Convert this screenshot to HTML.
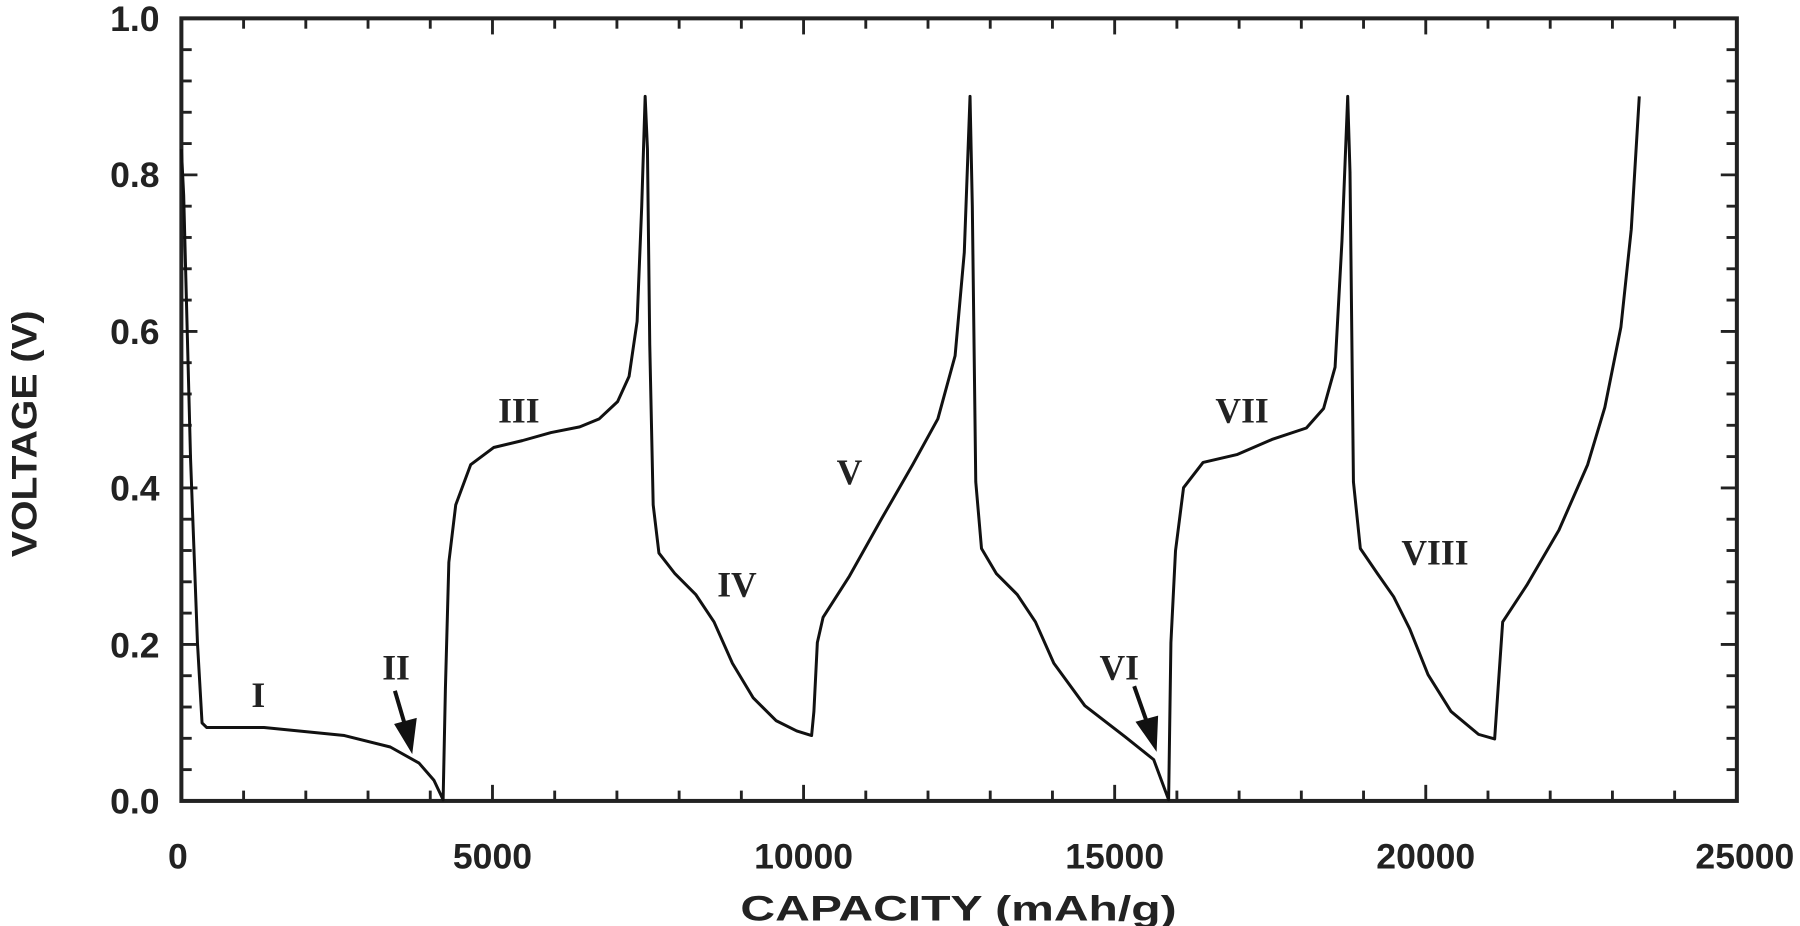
<!DOCTYPE html>
<html><head><meta charset="utf-8"><style>
html,body{margin:0;padding:0;background:#fff;}
svg{display:block;}
.t{font-family:"Liberation Sans",sans-serif;font-weight:bold;font-size:31px;fill:#222;}
.r{font-family:"Liberation Serif",serif;font-weight:bold;font-size:31px;fill:#222;}
</style></head><body>
<svg width="1800" height="926" viewBox="0 0 1568 807" preserveAspectRatio="none" xmlns="http://www.w3.org/2000/svg">
<g id="ticks" stroke="#222" stroke-width="2.5" fill="none"></g>
<rect x="158" y="16" width="1355" height="682" fill="none" stroke="#222" stroke-width="3.5"/>
<path fill="none" stroke="#111" stroke-width="2.6" stroke-linejoin="round" d="
M158,130 L160,170 L166,400 L172,560 L176,630 L180,634 L230,634 L300,641 L340,651 L365,665 L378,680 L386,697
L388,600 L391,490 L397,440 L410,405 L430,390 L455,384 L480,377 L505,372 L522,365 L538,350 L548,328 L555,280 L559,180 L562,84
L564,130 L566,300 L569,440 L574,482 L588,500 L606,518 L622,542 L638,578 L656,608 L676,628 L694,637 L707,641
L709,620 L712,560 L717,538 L740,502 L768,452 L795,405 L817,365 L832,310 L840,220 L845,84
L847,180 L850,420 L855,478 L868,500 L886,518 L902,542 L918,578 L945,615 L980,642 L1005,662 L1018,697
L1020,560 L1024,480 L1031,425 L1048,403 L1078,396 L1108,383 L1138,373 L1153,356 L1163,320 L1169,210 L1174,84
L1176,150 L1179,420 L1185,478 L1200,500 L1214,520 L1228,548 L1244,588 L1264,620 L1288,640 L1302,644
L1305,600 L1309,542 L1330,510 L1358,462 L1383,405 L1398,355 L1412,285 L1421,200 L1428,84"/>
<g class="r">
<text x="225" y="616" text-anchor="middle">I</text>
<text x="345" y="592" text-anchor="middle">II</text>
<text x="452" y="368" text-anchor="middle">III</text>
<text x="642" y="520" text-anchor="middle">IV</text>
<text x="740" y="422" text-anchor="middle">V</text>
<text x="975" y="592" text-anchor="middle">VI</text>
<text x="1082" y="368" text-anchor="middle">VII</text>
<text x="1250" y="492" text-anchor="middle">VIII</text>
</g>
<g stroke="#111" stroke-width="3.5" fill="#111">
<line x1="344" y1="602" x2="354" y2="636"/><polygon points="346,632 361,628 358,652"/>
<line x1="988" y1="598" x2="1000" y2="632"/><polygon points="992,630 1007,626 1006,650"/>
</g>
<g class="t" text-anchor="end">
<text x="139" y="709">0.0</text><text x="139" y="573">0.2</text><text x="139" y="436">0.4</text>
<text x="139" y="300">0.6</text><text x="139" y="163">0.8</text><text x="139" y="27">1.0</text>
</g>
<g class="t" text-anchor="middle">
<text x="155" y="757">0</text><text x="429" y="757">5000</text><text x="700" y="757">10000</text>
<text x="971" y="757">15000</text><text x="1242" y="757">20000</text><text x="1520" y="757">25000</text>
</g>
<text class="t" x="835" y="802" text-anchor="middle" font-size="36" textLength="380" lengthAdjust="spacingAndGlyphs">CAPACITY (mAh/g)</text>
<text class="t" transform="translate(32,378) rotate(-90)" text-anchor="middle" font-size="36" textLength="215" lengthAdjust="spacingAndGlyphs">VOLTAGE (V)</text>
</svg>
<script>
var g=document.getElementById('ticks'),s='';
for(var i=0;i<=25;i++){var x=158+i*54.2,L=(i%5==0)?14:9;
s+='<line x1="'+x+'" y1="698" x2="'+x+'" y2="'+(698-L)+'"/><line x1="'+x+'" y1="16" x2="'+x+'" y2="'+(16+L)+'"/>';}
for(var j=0;j<=25;j++){var y=698-j*27.28,L=(j%5==0)?14:9;
s+='<line x1="158" y1="'+y+'" x2="'+(158+L)+'" y2="'+y+'"/><line x1="1513" y1="'+y+'" x2="'+(1513-L)+'" y2="'+y+'"/>';}
g.innerHTML=s;
</script>
</body></html>
